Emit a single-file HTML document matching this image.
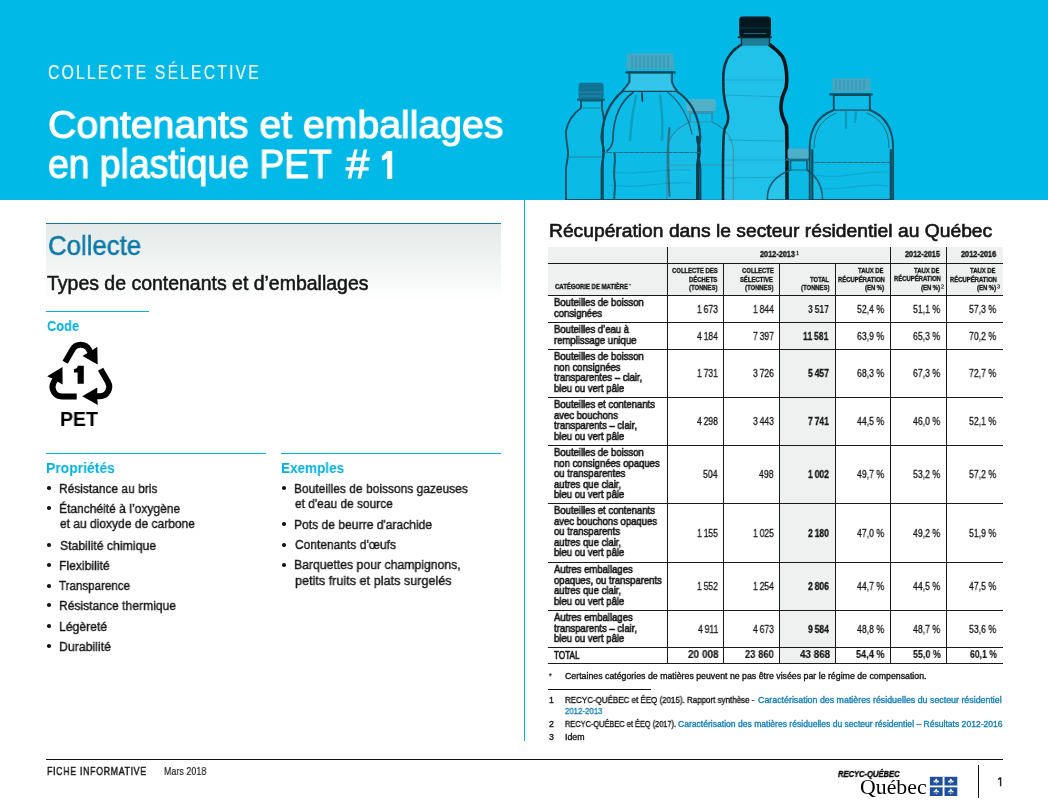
<!DOCTYPE html>
<html lang="fr"><head><meta charset="utf-8"><title>Contenants et emballages en plastique PET # 1</title>
<style>
html,body{margin:0;padding:0;background:#fff;}
body{width:1048px;height:811px;position:relative;overflow:hidden;font-family:"Liberation Sans",sans-serif;-webkit-font-smoothing:antialiased;}
.t{position:absolute;white-space:nowrap;transform-origin:0 0;will-change:transform;}
.r{position:absolute;}
</style></head><body>
<!-- header band -->
<div class="r" style="left:0;top:0;width:1048px;height:200px;background:#00b9e6"></div>
<!-- bottles -->
<svg class="r" style="left:0;top:0" width="1048" height="200" viewBox="0 0 1048 200">
<g stroke-linejoin="round" stroke-linecap="round">
 <!-- C back middle -->
 <path d="M690 113 L690 122 C676 128 667.5 138 667 152 L667 200 L733.4 200 L733.4 152 C733 138 725 128 712 122 L712 113 Z" fill="rgba(150,225,245,0.07)" stroke="#2a7d95" stroke-width="1.1"/>
 <path d="M669.5 128 C668 140 668 170 669.5 196" stroke="#1f6a80" stroke-width="2.2" fill="none"/>
 <path d="M690 122 L712 122 M668 165 L733 165" stroke="#3b8ea6" stroke-width="0.9" fill="none"/>
 <rect x="688" y="110.5" width="26" height="2.5" fill="#3f93aa"/>
 <rect x="686.5" y="99" width="29.3" height="12" rx="2" fill="#50b0c8"/>
 <!-- A small left -->
 <path d="M581 100.5 L581 108 C574 113 568 121 566 131 C565.5 140 568.5 148 568 155 C567.5 162 565.5 166 566 172 L566 200 L603 200 L603 128 C606 120 602 112 602 108 L602 100.5 Z" fill="rgba(150,225,245,0.07)" stroke="#0f4f63" stroke-width="1.9"/>
 <path d="M581 108 L602 108 M567 157 L603 157" stroke="#2a7a90" stroke-width="0.9" fill="none"/>
 <rect x="577" y="98.4" width="28" height="2.4" fill="#0c5f78"/>
 <rect x="578.6" y="82.8" width="25" height="16" rx="3" fill="#0f7393"/>
 <path d="M580 92.2 L602 92.2 M581 96 L601 96" stroke="#3593ae" stroke-width="0.8"/>
 <!-- B big left -->
 <path d="M629.6 72.5 L629.6 82 C627 86 624.5 89 622.4 91.3 C612 100 603 115 601.5 137 C601.5 143 604 147 604 152 C604 158 601.5 162 601.7 170 L601.7 200 L700.3 200 L700.3 170 C700.3 162 698 158 698 152 C698 147 700.3 143 700.3 137 C699 115 690 100 677 91.3 C675 89 673 86 671.8 82 L671.8 72.5 Z" fill="rgba(150,225,245,0.08)" stroke="#0b4558" stroke-width="2.2"/>
 <path d="M629.6 73 L671.8 73 L671.8 82 C673 86 675 89 677 91.3 L622.4 91.3 C624.5 89 627 86 629.6 82 Z" fill="rgba(190,235,245,0.22)" stroke="none"/>
 <path d="M633 92.5 C620 102 613.5 118 613 138 C613 144 611 148 607 151" stroke="#0f4c60" stroke-width="1.6" fill="none"/>
 <path d="M614.5 153 C616 162 613 170 614.5 180 C616 188 613.5 194 614.5 200" stroke="#195a6e" stroke-width="2" fill="none"/>
 <path d="M697.5 137 C697.5 143 700 147 699.5 152 C699 158 697 162 697.5 170 L697.5 200" stroke="#0a3d4e" stroke-width="3" fill="none"/>
 <path d="M668 92.5 C680 102 688 116 692 134" stroke="#1d6378" stroke-width="1.2" fill="none"/>
 <path d="M622.4 91.3 L677 91.3" stroke="#0a4254" stroke-width="1.3"/>
 <path d="M602 152.5 L700 152.5" stroke="#1f6d84" stroke-width="1" stroke-dasharray="4 1.5"/>
 <path d="M642 93 L642.5 101" stroke="#082f3c" stroke-width="1.6"/>
 <path d="M636 96 C633 110 631 125 630 140 M660 95 C662 110 663 125 662 140" stroke="rgba(20,90,110,0.3)" stroke-width="2.5" fill="none"/>
 <path d="M612 172 C640 176 660 168 690 170 M610 185 C640 190 665 180 692 183" stroke="rgba(20,90,110,0.22)" stroke-width="1.2" fill="none"/>
 <rect x="625.2" y="71.3" width="50.6" height="2.2" rx="1" fill="#0d4a5d"/>
 <path d="M627.4 53.2 L673 53.2 L674.7 69.3 L626.3 69.3 Z" fill="#45a8c2"/>
 <path d="M632 56 V68 M636 56 V68 M640 56 V68 M644 56 V68 M648 56 V68 M652 56 V68 M656 56 V68 M660 56 V68 M664 56 V68 M668 56 V68" stroke="rgba(10,80,100,0.28)" stroke-width="0.9"/>
 <!-- D tall -->
 <path d="M741 37 L741 45 C731 51 724 60 723.4 75 C723 90 724 100 727 110 C729 117 728.5 122 725 128 C723 134 723 150 723 200 L787 200 C787 150 787 136 786.5 126 C784 120 781.5 116 781 108 C781 100 783 95 786 88 C787.5 80 787 64 782 56 C778 51 774 48 770 45 L770 37 Z" fill="rgba(160,230,248,0.2)" stroke="none"/>
 <path d="M741 45 C731 51 724 60 723.4 75 C723 90 724 100 727 110 C729 117 728.5 122 725 128 C723 134 723 150 723 200" fill="none" stroke="#0a2c38" stroke-width="2.6" stroke-dasharray="4 1.5"/>
 <path d="M770 45 C774 48 778 51 782 56 C787 64 787.5 80 786 88 C783 95 781 100 781 108 C781.5 116 784 120 786.5 126 C787 136 787 150 787 200" fill="none" stroke="#03141a" stroke-width="3.6" stroke-dasharray="5 1.2"/>
 <path d="M741 45 L770 45" stroke="#1d5a6c" stroke-width="1"/>
 <path d="M726 80 L784 80 M727 95 L783 97 M728 140 L784 141 M726 160 L785 160 M726 178 L785 177" stroke="rgba(10,70,90,0.22)" stroke-width="1" fill="none"/>
 <rect x="741" y="37" width="29" height="8" fill="#1f7d98"/>
 <path d="M741.5 37 L741.5 45 M769.5 37 L769.5 45" stroke="#07303c" stroke-width="1.5"/>
 <rect x="737.5" y="36.3" width="34.5" height="2" rx="1" fill="#06242e"/>
 <rect x="739.2" y="16.5" width="31.8" height="20.5" rx="3.5" fill="#03171e"/>
 <path d="M740 28 L770 28" stroke="#0e4555" stroke-width="0.8"/>
 <path d="M744 33.6 L766 33.6" stroke="#1b6f87" stroke-width="1"/>
 <!-- E small front -->
 <path d="M790.5 160.5 L790.5 170 C780 174 769 182 767.5 195 L767.3 200 L822.5 200 L822.3 195 C821 183 815 175 807 170 L807 160.5 Z" fill="rgba(150,225,245,0.07)" stroke="#105a72" stroke-width="1.6"/>
 <path d="M790.5 170 L807 170" stroke="#1d6a82" stroke-width="1"/>
 <rect x="786" y="158.4" width="24" height="2.2" fill="#1d6b82"/>
 <rect x="787.6" y="148.6" width="21" height="10" rx="2" fill="#4eaec7"/>
 <!-- F right -->
 <path d="M833.8 95 L833.8 110 C818 116 810 128 809.7 147 L809.7 200 L893.1 200 L893.1 147 C892.8 128 885 116 869.8 110 L869.8 95 Z" fill="rgba(150,225,245,0.08)" stroke="#0d4b5f" stroke-width="1.9"/>
 <path d="M812.3 150 L812.3 200 M890.8 150 L890.8 200" stroke="#0d4b5f" stroke-width="2.2" fill="none"/>
 <path d="M814 148 C814 130 821 120 836 113 M889 148 C889 130 882 120 867 113" stroke="#1f6b82" stroke-width="1" fill="none"/>
 <path d="M833.8 110.2 L869.8 110.2" stroke="#0d4a5e" stroke-width="1.3"/>
 <path d="M810 162.4 L893 162.4" stroke="#215f73" stroke-width="1" stroke-dasharray="4 1.5"/>
 <path d="M846 112 L846 128 M856 112 L855 122" stroke="rgba(20,90,110,0.35)" stroke-width="2.2" fill="none"/>
 <path d="M816 175 C840 180 865 170 888 172 M816 188 C840 192 865 182 888 186" stroke="rgba(20,90,110,0.22)" stroke-width="1.2" fill="none"/>
 <rect x="829.2" y="93.3" width="43.7" height="2.2" rx="1" fill="#0d4a5d"/>
 <path d="M832.5 78.2 L870.5 78.2 L871 91.8 L832 91.8 Z" fill="#45a8c2"/>
 <path d="M836 80 V90 M840 80 V90 M844 80 V90 M848 80 V90 M852 80 V90 M856 80 V90 M860 80 V90 M864 80 V90" stroke="rgba(10,80,100,0.28)" stroke-width="0.9"/>
</g>
</svg>
<svg class="r" style="left:378px;top:148px" width="20" height="34" viewBox="378 148 20 34"><path d="M387 151.1 L392.2 151.1 L392.2 178.9 L387.2 178.9 L387.2 158.6 Q384.8 160 381.9 160.6 L381.9 156 Q385 154.6 387 151.1 Z" fill="#fff"/></svg>
<!-- vertical cyan divider -->
<div class="r" style="left:524px;top:200px;width:1px;height:541px;background:#00b1e0"></div>
<!-- Collecte box -->
<div class="r" style="left:46px;top:223px;width:455px;height:1px;background:#0b78a8"></div>
<div class="r" style="left:46px;top:224px;width:455px;height:77px;background:linear-gradient(#e3e9e8,#ffffff)"></div>
<div class="r" style="left:46px;top:311px;width:103px;height:1px;background:#00b1e0"></div>
<!-- recycle symbol -->
<svg class="r" style="left:40px;top:335px" width="80" height="100" viewBox="0 0 80 100">
 <defs><g id="arw">
  <path d="M25.1 27.2 L32.5 14.45 A9.5 9.5 0 0 1 48.9 14.45 L50.6 17.4" fill="none" stroke="#000" stroke-width="6"/>
  <path d="M42.5 21 Q45.5 19.2 47.7 18.1 L52.9 15.1 Q55 13.2 57.3 11.7 L57.7 29.6 Z" fill="#000"/>
 </g></defs>
 <use href="#arw"/>
 <use href="#arw" transform="rotate(120 40.8 41)"/>
 <use href="#arw" transform="rotate(240 40.8 41)"/>
 <path d="M37.8 30.8 L43.8 30.8 L43.8 48.7 L37.6 48.7 L37.6 37.6 Q35.8 37.4 33.9 37.4 L33.9 34.2 Q37.2 34 37.8 30.8 Z" fill="#000"/>
</svg>
<!-- section lines -->
<div class="r" style="left:46px;top:453px;width:220px;height:1px;background:#00b1e0"></div>
<div class="r" style="left:281px;top:453px;width:220px;height:1px;background:#00b1e0"></div>
<!-- table backgrounds -->
<div class="r" style="left:548px;top:247px;width:455px;height:48px;background:#eef1f0"></div>
<div class="r" style="left:780px;top:295px;width:55px;height:368px;background:#eef1f0"></div>
<div class="r" style="left:548px;top:295px;width:455px;height:1px;background:#1a1a1a"></div>
<div class="r" style="left:548px;top:322px;width:455px;height:1px;background:#1a1a1a"></div>
<div class="r" style="left:548px;top:349px;width:455px;height:1px;background:#1a1a1a"></div>
<div class="r" style="left:548px;top:397px;width:455px;height:1px;background:#1a1a1a"></div>
<div class="r" style="left:548px;top:445px;width:455px;height:1px;background:#1a1a1a"></div>
<div class="r" style="left:548px;top:503px;width:455px;height:1px;background:#1a1a1a"></div>
<div class="r" style="left:548px;top:562px;width:455px;height:1px;background:#1a1a1a"></div>
<div class="r" style="left:548px;top:610px;width:455px;height:1px;background:#1a1a1a"></div>
<div class="r" style="left:548px;top:647px;width:455px;height:1px;background:#1a1a1a"></div>
<div class="r" style="left:548px;top:663px;width:455px;height:1px;background:#1a1a1a"></div>
<div class="r" style="left:548px;top:263px;width:455px;height:1px;background:#1a1a1a"></div>
<div class="r" style="left:667px;top:247px;width:1px;height:16px;background:#1a1a1a"></div>
<div class="r" style="left:890px;top:247px;width:1px;height:16px;background:#1a1a1a"></div>
<div class="r" style="left:946px;top:247px;width:1px;height:16px;background:#1a1a1a"></div>
<div class="r" style="left:667px;top:263px;width:1px;height:400px;background:#1a1a1a"></div>
<div class="r" style="left:723px;top:263px;width:1px;height:400px;background:#1a1a1a"></div>
<div class="r" style="left:779px;top:263px;width:1px;height:400px;background:#1a1a1a"></div>
<div class="r" style="left:835px;top:263px;width:1px;height:400px;background:#1a1a1a"></div>
<div class="r" style="left:890px;top:263px;width:1px;height:400px;background:#1a1a1a"></div>
<div class="r" style="left:946px;top:263px;width:1px;height:400px;background:#1a1a1a"></div>

<!-- footnote separator -->
<div class="r" style="left:548px;top:689px;width:103px;height:1px;background:#111"></div>
<!-- footer -->
<div class="r" style="left:46px;top:759px;width:957px;height:1px;background:#111"></div>
<div class="r" style="left:978px;top:765px;width:1px;height:33px;background:#111"></div>
<svg class="r" style="left:996px;top:776px" width="8" height="12" viewBox="996 776 8 12"><path d="M999.7 777.3 L1001.3 777.3 L1001.3 786.2 L999.9 786.2 L999.9 779.3 L997.9 780.3 L997.9 779.0 Z" fill="#222"/></svg>
<!-- Quebec flag -->
<svg class="r" style="left:929px;top:776px" width="29" height="21" viewBox="0 0 29 21">
 <rect x="0.9" y="0.8" width="27.4" height="19.2" fill="#1d4f9c"/>
 <rect x="13.6" y="0.8" width="1.9" height="19.2" fill="#fff"/>
 <rect x="0.9" y="9.5" width="27.4" height="1.8" fill="#fff"/>
 <g fill="#fff">
  <path d="M7.2 2.3 L8.6 4.4 L7.2 6.2 L5.8 4.4 Z M4.5 4.6 L6.3 4.9 L6.3 5.9 L4.7 6.5 Z M9.9 4.6 L8.1 4.9 L8.1 5.9 L9.7 6.5 Z M5.8 6.6 L8.6 6.6 L8.6 7.1 L5.8 7.1 Z M6.9 7.1 L7.5 7.1 L7.3 8.3 L7.1 8.3 Z"/>
  <path d="M21.8 2.3 L23.2 4.4 L21.8 6.2 L20.4 4.4 Z M19.1 4.6 L20.9 4.9 L20.9 5.9 L19.3 6.5 Z M24.5 4.6 L22.7 4.9 L22.7 5.9 L24.3 6.5 Z M20.4 6.6 L23.2 6.6 L23.2 7.1 L20.4 7.1 Z M21.5 7.1 L22.1 7.1 L21.9 8.3 L21.7 8.3 Z"/>
  <path d="M7.2 12.4 L8.6 14.5 L7.2 16.3 L5.8 14.5 Z M4.5 14.7 L6.3 15 L6.3 16 L4.7 16.6 Z M9.9 14.7 L8.1 15 L8.1 16 L9.7 16.6 Z M5.8 16.7 L8.6 16.7 L8.6 17.2 L5.8 17.2 Z M6.9 17.2 L7.5 17.2 L7.3 18.4 L7.1 18.4 Z"/>
  <path d="M21.8 12.4 L23.2 14.5 L21.8 16.3 L20.4 14.5 Z M19.1 14.7 L20.9 15 L20.9 16 L19.3 16.6 Z M24.5 14.7 L22.7 15 L22.7 16 L24.3 16.6 Z M20.4 16.7 L23.2 16.7 L23.2 17.2 L20.4 17.2 Z M21.5 17.2 L22.1 17.2 L21.9 18.4 L21.7 18.4 Z"/>
 </g>
</svg>
<div class="r" style="left:47px;top:486px;width:3.6px;height:3.6px;border-radius:50%;background:#161616"></div>
<div class="r" style="left:47px;top:506px;width:3.6px;height:3.6px;border-radius:50%;background:#161616"></div>
<div class="r" style="left:47px;top:543px;width:3.6px;height:3.6px;border-radius:50%;background:#161616"></div>
<div class="r" style="left:47px;top:563px;width:3.6px;height:3.6px;border-radius:50%;background:#161616"></div>
<div class="r" style="left:47px;top:584px;width:3.6px;height:3.6px;border-radius:50%;background:#161616"></div>
<div class="r" style="left:47px;top:603px;width:3.6px;height:3.6px;border-radius:50%;background:#161616"></div>
<div class="r" style="left:47px;top:624px;width:3.6px;height:3.6px;border-radius:50%;background:#161616"></div>
<div class="r" style="left:47px;top:644px;width:3.6px;height:3.6px;border-radius:50%;background:#161616"></div>
<div class="r" style="left:282px;top:486px;width:3.6px;height:3.6px;border-radius:50%;background:#161616"></div>
<div class="r" style="left:282px;top:522px;width:3.6px;height:3.6px;border-radius:50%;background:#161616"></div>
<div class="r" style="left:282px;top:543px;width:3.6px;height:3.6px;border-radius:50%;background:#161616"></div>
<div class="r" style="left:282px;top:563px;width:3.6px;height:3.6px;border-radius:50%;background:#161616"></div>

<div class="t" style="left:47.55px;top:60.96px;font-family:'Liberation Sans';font-size:21.08px;line-height:21.08px;letter-spacing:2.8px;-webkit-text-stroke:0.1px #fff;color:#fff;transform:scaleX(0.7505);">COLLECTE SÉLECTIVE</div>
<div class="t" style="left:48.21px;top:105.31px;font-family:'Liberation Sans';font-size:39.68px;line-height:39.68px;-webkit-text-stroke:1.1px #fff;color:#fff;transform:scaleX(0.9880);">Contenants et emballages</div>
<div class="t" style="left:48.07px;top:145.06px;font-family:'Liberation Sans';font-size:39.97px;line-height:39.97px;-webkit-text-stroke:1.1px #fff;color:#fff;transform:scaleX(0.9323);">en plastique PET</div>
<div class="t" style="left:345.75px;top:145.06px;font-family:'Liberation Sans';font-size:39.97px;line-height:39.97px;-webkit-text-stroke:1.1px #fff;color:#fff;transform:scaleX(1.0458);">#</div>
<div class="t" style="left:47.74px;top:232.91px;font-family:'Liberation Sans';font-size:27.03px;line-height:27.03px;-webkit-text-stroke:0.5px #0b78a8;color:#0b78a8;transform:scaleX(0.9552);">Collecte</div>
<div class="t" style="left:47.40px;top:274.01px;font-family:'Liberation Sans';font-size:19.48px;line-height:19.48px;-webkit-text-stroke:0.55px #161616;color:#161616;">Types de contenants et d’emballages</div>
<div class="t" style="left:47.00px;top:318.28px;font-family:'Liberation Sans';font-size:15.26px;line-height:15.26px;font-weight:700;color:#00b1e0;transform:scaleX(0.8421);">Code</div>
<div class="t" style="left:60.03px;top:409.22px;font-family:'Liberation Sans';font-size:20.06px;line-height:20.06px;font-weight:700;color:#000;transform:scaleX(0.9737);">PET</div>
<div class="t" style="left:46.34px;top:460.60px;font-family:'Liberation Sans';font-size:14.53px;line-height:14.53px;font-weight:700;color:#00b1e0;transform:scaleX(0.9586);">Propriétés</div>
<div class="t" style="left:281.37px;top:460.60px;font-family:'Liberation Sans';font-size:14.53px;line-height:14.53px;font-weight:700;color:#00b1e0;transform:scaleX(0.9303);">Exemples</div>
<div class="t" style="left:58.62px;top:481.66px;font-family:'Liberation Sans';font-size:13.52px;line-height:13.52px;-webkit-text-stroke:0.4px #161616;color:#161616;transform:scaleX(0.8845);">Résistance au bris</div>
<div class="t" style="left:58.61px;top:501.56px;font-family:'Liberation Sans';font-size:13.52px;line-height:13.52px;-webkit-text-stroke:0.4px #161616;color:#161616;transform:scaleX(0.8904);">Étanchéité à l’oxygène</div>
<div class="t" style="left:59.50px;top:517.16px;font-family:'Liberation Sans';font-size:13.52px;line-height:13.52px;-webkit-text-stroke:0.4px #161616;color:#161616;transform:scaleX(0.8888);">et au dioxyde de carbone</div>
<div class="t" style="left:59.50px;top:538.66px;font-family:'Liberation Sans';font-size:13.52px;line-height:13.52px;-webkit-text-stroke:0.4px #161616;color:#161616;transform:scaleX(0.9066);">Stabilité chimique</div>
<div class="t" style="left:58.60px;top:558.76px;font-family:'Liberation Sans';font-size:13.52px;line-height:13.52px;-webkit-text-stroke:0.4px #161616;color:#161616;transform:scaleX(0.9000);">Flexibilité</div>
<div class="t" style="left:58.80px;top:578.96px;font-family:'Liberation Sans';font-size:13.52px;line-height:13.52px;-webkit-text-stroke:0.4px #161616;color:#161616;transform:scaleX(0.8578);">Transparence</div>
<div class="t" style="left:58.61px;top:598.86px;font-family:'Liberation Sans';font-size:13.52px;line-height:13.52px;-webkit-text-stroke:0.4px #161616;color:#161616;transform:scaleX(0.8946);">Résistance thermique</div>
<div class="t" style="left:58.60px;top:619.66px;font-family:'Liberation Sans';font-size:13.52px;line-height:13.52px;-webkit-text-stroke:0.4px #161616;color:#161616;transform:scaleX(0.9019);">Légèreté</div>
<div class="t" style="left:58.59px;top:639.56px;font-family:'Liberation Sans';font-size:13.52px;line-height:13.52px;-webkit-text-stroke:0.4px #161616;color:#161616;transform:scaleX(0.9107);">Durabilité</div>
<div class="t" style="left:293.61px;top:481.66px;font-family:'Liberation Sans';font-size:13.52px;line-height:13.52px;-webkit-text-stroke:0.4px #161616;color:#161616;transform:scaleX(0.8867);">Bouteilles de boissons gazeuses</div>
<div class="t" style="left:294.50px;top:496.96px;font-family:'Liberation Sans';font-size:13.52px;line-height:13.52px;-webkit-text-stroke:0.4px #161616;color:#161616;transform:scaleX(0.8829);">et d'eau de source</div>
<div class="t" style="left:293.61px;top:517.56px;font-family:'Liberation Sans';font-size:13.52px;line-height:13.52px;-webkit-text-stroke:0.4px #161616;color:#161616;transform:scaleX(0.8948);">Pots de beurre d'arachide</div>
<div class="t" style="left:294.50px;top:538.46px;font-family:'Liberation Sans';font-size:13.52px;line-height:13.52px;-webkit-text-stroke:0.4px #161616;color:#161616;transform:scaleX(0.8877);">Contenants d'œufs</div>
<div class="t" style="left:293.59px;top:558.36px;font-family:'Liberation Sans';font-size:13.52px;line-height:13.52px;-webkit-text-stroke:0.4px #161616;color:#161616;transform:scaleX(0.9055);">Barquettes pour champignons,</div>
<div class="t" style="left:294.50px;top:573.66px;font-family:'Liberation Sans';font-size:13.52px;line-height:13.52px;-webkit-text-stroke:0.4px #161616;color:#161616;transform:scaleX(0.9347);">petits fruits et plats surgelés</div>
<div class="t" style="left:548.80px;top:220.56px;font-family:'Liberation Sans';font-size:19.19px;line-height:19.19px;-webkit-text-stroke:0.65px #161616;color:#161616;transform:scaleX(1.0036);">Récupération dans le secteur résidentiel au Québec</div>
<div class="t" style="left:759.60px;top:250.89px;font-family:'Liberation Sans';font-size:8.28px;line-height:8.28px;font-weight:700;-webkit-text-stroke:0.35px #161616;color:#161616;transform:scaleX(0.8825);">2012-2013</div>
<div class="t" style="left:796.20px;top:250.28px;font-family:'Liberation Sans';font-size:11.63px;line-height:11.63px;-webkit-text-stroke:0.5px #161616;color:#161616;transform:scale(0.5000,0.5000);">1</div>
<div class="t" style="left:904.70px;top:250.59px;font-family:'Liberation Sans';font-size:8.28px;line-height:8.28px;font-weight:700;-webkit-text-stroke:0.35px #161616;color:#161616;transform:scaleX(0.8825);">2012-2015</div>
<div class="t" style="left:960.60px;top:250.59px;font-family:'Liberation Sans';font-size:8.28px;line-height:8.28px;font-weight:700;-webkit-text-stroke:0.35px #161616;color:#161616;transform:scaleX(0.8875);">2012-2016</div>
<div class="t" style="left:893.90px;top:275.45px;font-family:'Liberation Sans';font-size:7.27px;line-height:7.27px;font-weight:700;-webkit-text-stroke:0.35px #161616;color:#161616;transform:scaleX(0.8140);">RÉCUPÉRATION</div>
<div class="t" style="left:554.90px;top:283.74px;font-family:'Liberation Sans';font-size:6.69px;line-height:6.69px;font-weight:700;-webkit-text-stroke:0.35px #161616;color:#161616;transform:scaleX(0.8915);">CATÉGORIE DE MATIÈRE</div>
<div class="t" style="left:628.80px;top:283.07px;font-family:'Liberation Sans';font-size:8.72px;line-height:8.72px;color:#161616;transform:scale(0.6000,0.6000);">*</div>
<div class="t" style="left:671.91px;top:267.45px;font-family:'Liberation Sans';font-size:7.27px;line-height:7.27px;font-weight:700;-webkit-text-stroke:0.35px #161616;color:#161616;transform:scaleX(0.8140);">COLLECTE DES</div>
<div class="t" style="left:689.01px;top:275.50px;font-family:'Liberation Sans';font-size:7.27px;line-height:7.27px;font-weight:700;-webkit-text-stroke:0.35px #161616;color:#161616;transform:scaleX(0.8140);">DÉCHETS</div>
<div class="t" style="left:689.01px;top:283.55px;font-family:'Liberation Sans';font-size:7.27px;line-height:7.27px;font-weight:700;-webkit-text-stroke:0.35px #161616;color:#161616;transform:scaleX(0.8140);">(TONNES)</div>
<div class="t" style="left:741.55px;top:267.45px;font-family:'Liberation Sans';font-size:7.27px;line-height:7.27px;font-weight:700;-webkit-text-stroke:0.35px #161616;color:#161616;transform:scaleX(0.8140);">COLLECTE</div>
<div class="t" style="left:739.92px;top:275.50px;font-family:'Liberation Sans';font-size:7.27px;line-height:7.27px;font-weight:700;-webkit-text-stroke:0.35px #161616;color:#161616;transform:scaleX(0.8140);">SÉLECTIVE</div>
<div class="t" style="left:744.81px;top:283.55px;font-family:'Liberation Sans';font-size:7.27px;line-height:7.27px;font-weight:700;-webkit-text-stroke:0.35px #161616;color:#161616;transform:scaleX(0.8140);">(TONNES)</div>
<div class="t" style="left:809.56px;top:275.50px;font-family:'Liberation Sans';font-size:7.27px;line-height:7.27px;font-weight:700;-webkit-text-stroke:0.35px #161616;color:#161616;transform:scaleX(0.8140);">TOTAL</div>
<div class="t" style="left:800.61px;top:283.55px;font-family:'Liberation Sans';font-size:7.27px;line-height:7.27px;font-weight:700;-webkit-text-stroke:0.35px #161616;color:#161616;transform:scaleX(0.8140);">(TONNES)</div>
<div class="t" style="left:858.15px;top:267.45px;font-family:'Liberation Sans';font-size:7.27px;line-height:7.27px;font-weight:700;-webkit-text-stroke:0.35px #161616;color:#161616;transform:scaleX(0.8140);">TAUX DE</div>
<div class="t" style="left:837.80px;top:275.50px;font-family:'Liberation Sans';font-size:7.27px;line-height:7.27px;font-weight:700;-webkit-text-stroke:0.35px #161616;color:#161616;transform:scaleX(0.8140);">RÉCUPÉRATION</div>
<div class="t" style="left:864.66px;top:283.55px;font-family:'Liberation Sans';font-size:7.27px;line-height:7.27px;font-weight:700;-webkit-text-stroke:0.35px #161616;color:#161616;transform:scaleX(0.8140);">(EN %)</div>
<div class="t" style="left:914.25px;top:267.45px;font-family:'Liberation Sans';font-size:7.27px;line-height:7.27px;font-weight:700;-webkit-text-stroke:0.35px #161616;color:#161616;transform:scaleX(0.8140);">TAUX DE</div>
<div class="t" style="left:920.76px;top:283.55px;font-family:'Liberation Sans';font-size:7.27px;line-height:7.27px;font-weight:700;-webkit-text-stroke:0.35px #161616;color:#161616;transform:scaleX(0.8140);">(EN %)</div>
<div class="t" style="left:970.05px;top:267.45px;font-family:'Liberation Sans';font-size:7.27px;line-height:7.27px;font-weight:700;-webkit-text-stroke:0.35px #161616;color:#161616;transform:scaleX(0.8140);">TAUX DE</div>
<div class="t" style="left:949.70px;top:275.50px;font-family:'Liberation Sans';font-size:7.27px;line-height:7.27px;font-weight:700;-webkit-text-stroke:0.35px #161616;color:#161616;transform:scaleX(0.8140);">RÉCUPÉRATION</div>
<div class="t" style="left:976.56px;top:283.55px;font-family:'Liberation Sans';font-size:7.27px;line-height:7.27px;font-weight:700;-webkit-text-stroke:0.35px #161616;color:#161616;transform:scaleX(0.8140);">(EN %)</div>
<div class="t" style="left:941.40px;top:283.72px;font-family:'Liberation Sans';font-size:11.05px;line-height:11.05px;-webkit-text-stroke:0.4px #161616;color:#161616;transform:scale(0.5000,0.5000);">2</div>
<div class="t" style="left:996.90px;top:283.72px;font-family:'Liberation Sans';font-size:11.05px;line-height:11.05px;-webkit-text-stroke:0.4px #161616;color:#161616;transform:scale(0.5000,0.5000);">3</div>
<div class="t" style="left:553.90px;top:458.74px;font-family:'Liberation Sans';font-size:10.47px;line-height:10.47px;-webkit-text-stroke:0.6px #161616;color:#161616;transform:scaleX(0.9077);">non consignées opaques</div>
<div class="t" style="left:696.90px;top:303.70px;font-family:'Liberation Sans';font-size:10.76px;line-height:10.76px;-webkit-text-stroke:0.35px #161616;color:#161616;transform:scaleX(0.8077);">1 673</div>
<div class="t" style="left:808.20px;top:303.70px;font-family:'Liberation Sans';font-size:10.76px;line-height:10.76px;font-weight:700;color:#161616;transform:scaleX(0.8077);">3 517</div>
<div class="t" style="left:553.90px;top:298.24px;font-family:'Liberation Sans';font-size:10.47px;line-height:10.47px;-webkit-text-stroke:0.6px #161616;color:#161616;transform:scaleX(0.9077);">Bouteilles de boisson</div>
<div class="t" style="left:553.90px;top:308.74px;font-family:'Liberation Sans';font-size:10.47px;line-height:10.47px;-webkit-text-stroke:0.6px #161616;color:#161616;transform:scaleX(0.9077);">consignées</div>
<div class="t" style="left:752.70px;top:303.70px;font-family:'Liberation Sans';font-size:10.76px;line-height:10.76px;-webkit-text-stroke:0.3px #161616;color:#161616;transform:scaleX(0.8077);">1 844</div>
<div class="t" style="left:857.04px;top:303.70px;font-family:'Liberation Sans';font-size:10.76px;line-height:10.76px;-webkit-text-stroke:0.3px #161616;color:#161616;transform:scaleX(0.8077);">52,4 %</div>
<div class="t" style="left:913.14px;top:303.70px;font-family:'Liberation Sans';font-size:10.76px;line-height:10.76px;-webkit-text-stroke:0.3px #161616;color:#161616;transform:scaleX(0.8077);">51,1 %</div>
<div class="t" style="left:969.24px;top:303.70px;font-family:'Liberation Sans';font-size:10.76px;line-height:10.76px;-webkit-text-stroke:0.3px #161616;color:#161616;transform:scaleX(0.8077);">57,3 %</div>
<div class="t" style="left:553.90px;top:325.24px;font-family:'Liberation Sans';font-size:10.47px;line-height:10.47px;-webkit-text-stroke:0.6px #161616;color:#161616;transform:scaleX(0.9077);">Bouteilles d’eau à</div>
<div class="t" style="left:553.90px;top:335.74px;font-family:'Liberation Sans';font-size:10.47px;line-height:10.47px;-webkit-text-stroke:0.6px #161616;color:#161616;transform:scaleX(0.9077);">remplissage unique</div>
<div class="t" style="left:697.00px;top:330.70px;font-family:'Liberation Sans';font-size:10.76px;line-height:10.76px;-webkit-text-stroke:0.3px #161616;color:#161616;transform:scaleX(0.8077);">4 184</div>
<div class="t" style="left:752.70px;top:330.70px;font-family:'Liberation Sans';font-size:10.76px;line-height:10.76px;-webkit-text-stroke:0.3px #161616;color:#161616;transform:scaleX(0.8077);">7 397</div>
<div class="t" style="left:803.35px;top:330.70px;font-family:'Liberation Sans';font-size:10.76px;line-height:10.76px;font-weight:700;-webkit-text-stroke:0.3px #161616;color:#161616;transform:scaleX(0.8077);">11 581</div>
<div class="t" style="left:857.04px;top:330.70px;font-family:'Liberation Sans';font-size:10.76px;line-height:10.76px;-webkit-text-stroke:0.3px #161616;color:#161616;transform:scaleX(0.8077);">63,9 %</div>
<div class="t" style="left:913.14px;top:330.70px;font-family:'Liberation Sans';font-size:10.76px;line-height:10.76px;-webkit-text-stroke:0.3px #161616;color:#161616;transform:scaleX(0.8077);">65,3 %</div>
<div class="t" style="left:969.24px;top:330.70px;font-family:'Liberation Sans';font-size:10.76px;line-height:10.76px;-webkit-text-stroke:0.3px #161616;color:#161616;transform:scaleX(0.8077);">70,2 %</div>
<div class="t" style="left:553.90px;top:352.24px;font-family:'Liberation Sans';font-size:10.47px;line-height:10.47px;-webkit-text-stroke:0.6px #161616;color:#161616;transform:scaleX(0.9077);">Bouteilles de boisson</div>
<div class="t" style="left:553.90px;top:362.74px;font-family:'Liberation Sans';font-size:10.47px;line-height:10.47px;-webkit-text-stroke:0.6px #161616;color:#161616;transform:scaleX(0.9077);">non consignées</div>
<div class="t" style="left:553.90px;top:373.24px;font-family:'Liberation Sans';font-size:10.47px;line-height:10.47px;-webkit-text-stroke:0.6px #161616;color:#161616;transform:scaleX(0.9077);">transparentes – clair,</div>
<div class="t" style="left:553.90px;top:383.74px;font-family:'Liberation Sans';font-size:10.47px;line-height:10.47px;-webkit-text-stroke:0.6px #161616;color:#161616;transform:scaleX(0.9077);">bleu ou vert pâle</div>
<div class="t" style="left:697.00px;top:368.20px;font-family:'Liberation Sans';font-size:10.76px;line-height:10.76px;-webkit-text-stroke:0.3px #161616;color:#161616;transform:scaleX(0.8077);">1 731</div>
<div class="t" style="left:752.70px;top:368.20px;font-family:'Liberation Sans';font-size:10.76px;line-height:10.76px;-webkit-text-stroke:0.3px #161616;color:#161616;transform:scaleX(0.8077);">3 726</div>
<div class="t" style="left:808.20px;top:368.20px;font-family:'Liberation Sans';font-size:10.76px;line-height:10.76px;font-weight:700;-webkit-text-stroke:0.3px #161616;color:#161616;transform:scaleX(0.8077);">5 457</div>
<div class="t" style="left:857.04px;top:368.20px;font-family:'Liberation Sans';font-size:10.76px;line-height:10.76px;-webkit-text-stroke:0.3px #161616;color:#161616;transform:scaleX(0.8077);">68,3 %</div>
<div class="t" style="left:913.14px;top:368.20px;font-family:'Liberation Sans';font-size:10.76px;line-height:10.76px;-webkit-text-stroke:0.3px #161616;color:#161616;transform:scaleX(0.8077);">67,3 %</div>
<div class="t" style="left:969.24px;top:368.20px;font-family:'Liberation Sans';font-size:10.76px;line-height:10.76px;-webkit-text-stroke:0.3px #161616;color:#161616;transform:scaleX(0.8077);">72,7 %</div>
<div class="t" style="left:553.90px;top:400.24px;font-family:'Liberation Sans';font-size:10.47px;line-height:10.47px;-webkit-text-stroke:0.6px #161616;color:#161616;transform:scaleX(0.9077);">Bouteilles et contenants</div>
<div class="t" style="left:553.90px;top:410.74px;font-family:'Liberation Sans';font-size:10.47px;line-height:10.47px;-webkit-text-stroke:0.6px #161616;color:#161616;transform:scaleX(0.9077);">avec bouchons</div>
<div class="t" style="left:553.90px;top:421.24px;font-family:'Liberation Sans';font-size:10.47px;line-height:10.47px;-webkit-text-stroke:0.6px #161616;color:#161616;transform:scaleX(0.9077);">transparents – clair,</div>
<div class="t" style="left:553.90px;top:431.74px;font-family:'Liberation Sans';font-size:10.47px;line-height:10.47px;-webkit-text-stroke:0.6px #161616;color:#161616;transform:scaleX(0.9077);">bleu ou vert pâle</div>
<div class="t" style="left:697.00px;top:416.20px;font-family:'Liberation Sans';font-size:10.76px;line-height:10.76px;-webkit-text-stroke:0.3px #161616;color:#161616;transform:scaleX(0.8077);">4 298</div>
<div class="t" style="left:752.70px;top:416.20px;font-family:'Liberation Sans';font-size:10.76px;line-height:10.76px;-webkit-text-stroke:0.3px #161616;color:#161616;transform:scaleX(0.8077);">3 443</div>
<div class="t" style="left:808.20px;top:416.20px;font-family:'Liberation Sans';font-size:10.76px;line-height:10.76px;font-weight:700;-webkit-text-stroke:0.3px #161616;color:#161616;transform:scaleX(0.8077);">7 741</div>
<div class="t" style="left:857.04px;top:416.20px;font-family:'Liberation Sans';font-size:10.76px;line-height:10.76px;-webkit-text-stroke:0.3px #161616;color:#161616;transform:scaleX(0.8077);">44,5 %</div>
<div class="t" style="left:913.14px;top:416.20px;font-family:'Liberation Sans';font-size:10.76px;line-height:10.76px;-webkit-text-stroke:0.3px #161616;color:#161616;transform:scaleX(0.8077);">46,0 %</div>
<div class="t" style="left:969.24px;top:416.20px;font-family:'Liberation Sans';font-size:10.76px;line-height:10.76px;-webkit-text-stroke:0.3px #161616;color:#161616;transform:scaleX(0.8077);">52,1 %</div>
<div class="t" style="left:553.90px;top:448.24px;font-family:'Liberation Sans';font-size:10.47px;line-height:10.47px;-webkit-text-stroke:0.6px #161616;color:#161616;transform:scaleX(0.9077);">Bouteilles de boisson</div>
<div class="t" style="left:553.90px;top:469.24px;font-family:'Liberation Sans';font-size:10.47px;line-height:10.47px;-webkit-text-stroke:0.6px #161616;color:#161616;transform:scaleX(0.9077);">ou transparentes</div>
<div class="t" style="left:553.90px;top:479.74px;font-family:'Liberation Sans';font-size:10.47px;line-height:10.47px;-webkit-text-stroke:0.6px #161616;color:#161616;transform:scaleX(0.9077);">autres que clair,</div>
<div class="t" style="left:553.90px;top:490.24px;font-family:'Liberation Sans';font-size:10.47px;line-height:10.47px;-webkit-text-stroke:0.6px #161616;color:#161616;transform:scaleX(0.9077);">bleu ou vert pâle</div>
<div class="t" style="left:703.46px;top:469.20px;font-family:'Liberation Sans';font-size:10.76px;line-height:10.76px;-webkit-text-stroke:0.3px #161616;color:#161616;transform:scaleX(0.8077);">504</div>
<div class="t" style="left:759.16px;top:469.20px;font-family:'Liberation Sans';font-size:10.76px;line-height:10.76px;-webkit-text-stroke:0.3px #161616;color:#161616;transform:scaleX(0.8077);">498</div>
<div class="t" style="left:808.20px;top:469.20px;font-family:'Liberation Sans';font-size:10.76px;line-height:10.76px;font-weight:700;-webkit-text-stroke:0.3px #161616;color:#161616;transform:scaleX(0.8077);">1 002</div>
<div class="t" style="left:857.04px;top:469.20px;font-family:'Liberation Sans';font-size:10.76px;line-height:10.76px;-webkit-text-stroke:0.3px #161616;color:#161616;transform:scaleX(0.8077);">49,7 %</div>
<div class="t" style="left:913.14px;top:469.20px;font-family:'Liberation Sans';font-size:10.76px;line-height:10.76px;-webkit-text-stroke:0.3px #161616;color:#161616;transform:scaleX(0.8077);">53,2 %</div>
<div class="t" style="left:969.24px;top:469.20px;font-family:'Liberation Sans';font-size:10.76px;line-height:10.76px;-webkit-text-stroke:0.3px #161616;color:#161616;transform:scaleX(0.8077);">57,2 %</div>
<div class="t" style="left:553.90px;top:506.24px;font-family:'Liberation Sans';font-size:10.47px;line-height:10.47px;-webkit-text-stroke:0.6px #161616;color:#161616;transform:scaleX(0.9077);">Bouteilles et contenants</div>
<div class="t" style="left:553.90px;top:516.74px;font-family:'Liberation Sans';font-size:10.47px;line-height:10.47px;-webkit-text-stroke:0.6px #161616;color:#161616;transform:scaleX(0.9077);">avec bouchons opaques</div>
<div class="t" style="left:553.90px;top:527.24px;font-family:'Liberation Sans';font-size:10.47px;line-height:10.47px;-webkit-text-stroke:0.6px #161616;color:#161616;transform:scaleX(0.9077);">ou transparents</div>
<div class="t" style="left:553.90px;top:537.74px;font-family:'Liberation Sans';font-size:10.47px;line-height:10.47px;-webkit-text-stroke:0.6px #161616;color:#161616;transform:scaleX(0.9077);">autres que clair,</div>
<div class="t" style="left:553.90px;top:548.24px;font-family:'Liberation Sans';font-size:10.47px;line-height:10.47px;-webkit-text-stroke:0.6px #161616;color:#161616;transform:scaleX(0.9077);">bleu ou vert pâle</div>
<div class="t" style="left:697.00px;top:527.70px;font-family:'Liberation Sans';font-size:10.76px;line-height:10.76px;-webkit-text-stroke:0.3px #161616;color:#161616;transform:scaleX(0.8077);">1 155</div>
<div class="t" style="left:752.70px;top:527.70px;font-family:'Liberation Sans';font-size:10.76px;line-height:10.76px;-webkit-text-stroke:0.3px #161616;color:#161616;transform:scaleX(0.8077);">1 025</div>
<div class="t" style="left:808.20px;top:527.70px;font-family:'Liberation Sans';font-size:10.76px;line-height:10.76px;font-weight:700;-webkit-text-stroke:0.3px #161616;color:#161616;transform:scaleX(0.8077);">2 180</div>
<div class="t" style="left:857.04px;top:527.70px;font-family:'Liberation Sans';font-size:10.76px;line-height:10.76px;-webkit-text-stroke:0.3px #161616;color:#161616;transform:scaleX(0.8077);">47,0 %</div>
<div class="t" style="left:913.14px;top:527.70px;font-family:'Liberation Sans';font-size:10.76px;line-height:10.76px;-webkit-text-stroke:0.3px #161616;color:#161616;transform:scaleX(0.8077);">49,2 %</div>
<div class="t" style="left:969.24px;top:527.70px;font-family:'Liberation Sans';font-size:10.76px;line-height:10.76px;-webkit-text-stroke:0.3px #161616;color:#161616;transform:scaleX(0.8077);">51,9 %</div>
<div class="t" style="left:553.90px;top:565.24px;font-family:'Liberation Sans';font-size:10.47px;line-height:10.47px;-webkit-text-stroke:0.6px #161616;color:#161616;transform:scaleX(0.9077);">Autres emballages</div>
<div class="t" style="left:553.90px;top:575.74px;font-family:'Liberation Sans';font-size:10.47px;line-height:10.47px;-webkit-text-stroke:0.6px #161616;color:#161616;transform:scaleX(0.9077);">opaques, ou transparents</div>
<div class="t" style="left:553.90px;top:586.24px;font-family:'Liberation Sans';font-size:10.47px;line-height:10.47px;-webkit-text-stroke:0.6px #161616;color:#161616;transform:scaleX(0.9077);">autres que clair,</div>
<div class="t" style="left:553.90px;top:596.74px;font-family:'Liberation Sans';font-size:10.47px;line-height:10.47px;-webkit-text-stroke:0.6px #161616;color:#161616;transform:scaleX(0.9077);">bleu ou vert pâle</div>
<div class="t" style="left:697.00px;top:581.20px;font-family:'Liberation Sans';font-size:10.76px;line-height:10.76px;-webkit-text-stroke:0.3px #161616;color:#161616;transform:scaleX(0.8077);">1 552</div>
<div class="t" style="left:752.70px;top:581.20px;font-family:'Liberation Sans';font-size:10.76px;line-height:10.76px;-webkit-text-stroke:0.3px #161616;color:#161616;transform:scaleX(0.8077);">1 254</div>
<div class="t" style="left:808.20px;top:581.20px;font-family:'Liberation Sans';font-size:10.76px;line-height:10.76px;font-weight:700;-webkit-text-stroke:0.3px #161616;color:#161616;transform:scaleX(0.8077);">2 806</div>
<div class="t" style="left:857.04px;top:581.20px;font-family:'Liberation Sans';font-size:10.76px;line-height:10.76px;-webkit-text-stroke:0.3px #161616;color:#161616;transform:scaleX(0.8077);">44,7 %</div>
<div class="t" style="left:913.14px;top:581.20px;font-family:'Liberation Sans';font-size:10.76px;line-height:10.76px;-webkit-text-stroke:0.3px #161616;color:#161616;transform:scaleX(0.8077);">44,5 %</div>
<div class="t" style="left:969.24px;top:581.20px;font-family:'Liberation Sans';font-size:10.76px;line-height:10.76px;-webkit-text-stroke:0.3px #161616;color:#161616;transform:scaleX(0.8077);">47,5 %</div>
<div class="t" style="left:553.90px;top:613.24px;font-family:'Liberation Sans';font-size:10.47px;line-height:10.47px;-webkit-text-stroke:0.6px #161616;color:#161616;transform:scaleX(0.9077);">Autres emballages</div>
<div class="t" style="left:553.90px;top:623.74px;font-family:'Liberation Sans';font-size:10.47px;line-height:10.47px;-webkit-text-stroke:0.6px #161616;color:#161616;transform:scaleX(0.9077);">transparents – clair,</div>
<div class="t" style="left:553.90px;top:634.24px;font-family:'Liberation Sans';font-size:10.47px;line-height:10.47px;-webkit-text-stroke:0.6px #161616;color:#161616;transform:scaleX(0.9077);">bleu ou vert pâle</div>
<div class="t" style="left:697.81px;top:623.70px;font-family:'Liberation Sans';font-size:10.76px;line-height:10.76px;-webkit-text-stroke:0.3px #161616;color:#161616;transform:scaleX(0.8077);">4 911</div>
<div class="t" style="left:752.70px;top:623.70px;font-family:'Liberation Sans';font-size:10.76px;line-height:10.76px;-webkit-text-stroke:0.3px #161616;color:#161616;transform:scaleX(0.8077);">4 673</div>
<div class="t" style="left:808.20px;top:623.70px;font-family:'Liberation Sans';font-size:10.76px;line-height:10.76px;font-weight:700;-webkit-text-stroke:0.3px #161616;color:#161616;transform:scaleX(0.8077);">9 584</div>
<div class="t" style="left:857.04px;top:623.70px;font-family:'Liberation Sans';font-size:10.76px;line-height:10.76px;-webkit-text-stroke:0.3px #161616;color:#161616;transform:scaleX(0.8077);">48,8 %</div>
<div class="t" style="left:913.14px;top:623.70px;font-family:'Liberation Sans';font-size:10.76px;line-height:10.76px;-webkit-text-stroke:0.3px #161616;color:#161616;transform:scaleX(0.8077);">48,7 %</div>
<div class="t" style="left:969.24px;top:623.70px;font-family:'Liberation Sans';font-size:10.76px;line-height:10.76px;-webkit-text-stroke:0.3px #161616;color:#161616;transform:scaleX(0.8077);">53,6 %</div>
<div class="t" style="left:553.80px;top:649.55px;font-family:'Liberation Sans';font-size:11.05px;line-height:11.05px;-webkit-text-stroke:0.6px #161616;color:#161616;transform:scaleX(0.7371);">TOTAL</div>
<div class="t" style="left:687.80px;top:649.37px;font-family:'Liberation Sans';font-size:10.90px;line-height:10.90px;font-weight:700;-webkit-text-stroke:0.15px #161616;color:#161616;transform:scaleX(0.9182);">20 008</div>
<div class="t" style="left:744.50px;top:649.37px;font-family:'Liberation Sans';font-size:10.90px;line-height:10.90px;font-weight:700;-webkit-text-stroke:0.15px #161616;color:#161616;transform:scaleX(0.8636);">23 860</div>
<div class="t" style="left:799.50px;top:649.37px;font-family:'Liberation Sans';font-size:10.90px;line-height:10.90px;font-weight:700;-webkit-text-stroke:0.15px #161616;color:#161616;transform:scaleX(0.9030);">43 868</div>
<div class="t" style="left:856.10px;top:649.37px;font-family:'Liberation Sans';font-size:10.90px;line-height:10.90px;font-weight:700;-webkit-text-stroke:0.15px #161616;color:#161616;transform:scaleX(0.8412);">54,4 %</div>
<div class="t" style="left:912.60px;top:649.37px;font-family:'Liberation Sans';font-size:10.90px;line-height:10.90px;font-weight:700;-webkit-text-stroke:0.15px #161616;color:#161616;transform:scaleX(0.8206);">55,0 %</div>
<div class="t" style="left:969.90px;top:649.37px;font-family:'Liberation Sans';font-size:10.90px;line-height:10.90px;font-weight:700;-webkit-text-stroke:0.15px #161616;color:#161616;transform:scaleX(0.7941);">60,1 %</div>
<div class="t" style="left:549.00px;top:672.33px;font-family:'Liberation Sans';font-size:9.30px;line-height:9.30px;-webkit-text-stroke:0.2px #161616;color:#161616;transform:scaleX(0.7500);">*</div>
<div class="t" style="left:564.70px;top:672.46px;font-family:'Liberation Sans';font-size:8.43px;line-height:8.43px;-webkit-text-stroke:0.35px #161616;color:#161616;transform:scaleX(1.0421);">Certaines catégories de matières peuvent ne pas être visées par le régime de compensation.</div>
<div class="t" style="left:549.30px;top:696.26px;font-family:'Liberation Sans';font-size:8.43px;line-height:8.43px;-webkit-text-stroke:0.35px #161616;color:#161616;transform:scaleX(1.0421);">1</div>
<div class="t" style="left:564.70px;top:696.26px;font-family:'Liberation Sans';font-size:8.43px;line-height:8.43px;-webkit-text-stroke:0.35px #161616;color:#161616;transform:scaleX(0.9475);">RECYC-QUÉBEC et ÉEQ (2015). Rapport synthèse -</div>
<div class="t" style="left:757.50px;top:696.26px;font-family:'Liberation Sans';font-size:8.43px;line-height:8.43px;-webkit-text-stroke:0.35px #1680b9;color:#1680b9;transform:scaleX(1.0496);">Caractérisation des matières résiduelles du secteur résidentiel</div>
<div class="t" style="left:564.70px;top:707.16px;font-family:'Liberation Sans';font-size:8.43px;line-height:8.43px;-webkit-text-stroke:0.35px #1680b9;color:#1680b9;transform:scaleX(0.9300);">2012-2013</div>
<div class="t" style="left:549.00px;top:720.06px;font-family:'Liberation Sans';font-size:8.43px;line-height:8.43px;-webkit-text-stroke:0.35px #161616;color:#161616;transform:scaleX(1.0421);">2</div>
<div class="t" style="left:564.70px;top:720.06px;font-family:'Liberation Sans';font-size:8.43px;line-height:8.43px;-webkit-text-stroke:0.35px #161616;color:#161616;transform:scaleX(0.8786);">RECYC-QUÉBEC et ÉEQ (2017).</div>
<div class="t" style="left:677.80px;top:720.06px;font-family:'Liberation Sans';font-size:8.43px;line-height:8.43px;-webkit-text-stroke:0.35px #1680b9;color:#1680b9;transform:scaleX(1.0166);">Caractérisation des matières résiduelles du secteur résidentiel – Résultats 2012-2016</div>
<div class="t" style="left:549.00px;top:733.26px;font-family:'Liberation Sans';font-size:8.43px;line-height:8.43px;-webkit-text-stroke:0.35px #161616;color:#161616;transform:scaleX(1.0421);">3</div>
<div class="t" style="left:564.70px;top:733.26px;font-family:'Liberation Sans';font-size:8.43px;line-height:8.43px;-webkit-text-stroke:0.35px #161616;color:#161616;transform:scaleX(1.0421);">Idem</div>
<div class="t" style="left:46.50px;top:766.13px;font-family:'Liberation Sans';font-size:11.19px;line-height:11.19px;letter-spacing:0.8px;-webkit-text-stroke:0.45px #161616;color:#161616;transform:scaleX(0.7928);">FICHE INFORMATIVE</div>
<div class="t" style="left:164.20px;top:766.13px;font-family:'Liberation Sans';font-size:11.19px;line-height:11.19px;-webkit-text-stroke:0.15px #161616;color:#161616;transform:scaleX(0.8000);">Mars 2018</div>
<div class="t" style="left:837.90px;top:770.24px;font-family:'Liberation Sans';font-size:8.58px;line-height:8.58px;font-weight:700;font-style:italic;-webkit-text-stroke:0.35px #000;color:#000;transform:scaleX(0.8829);">RECYC-QUÉBEC</div>
<div class="t" style="left:859.71px;top:777.80px;font-family:'Liberation Serif';font-size:19.94px;line-height:19.94px;color:#000;transform:scaleX(1.0932);">Québec</div>
</body></html>
